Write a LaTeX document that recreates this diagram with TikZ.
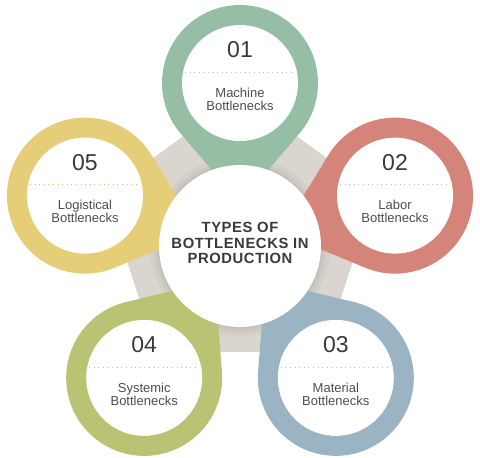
\documentclass[tikz,border=0pt]{standalone}
\usepackage{fontspec}
\setmainfont{Liberation Sans}
\newfontfamily\titlefont{Liberation Sans}[LetterSpace=4.0]
\usetikzlibrary{calc}
\definecolor{sage}{HTML}{96BEA5}
\definecolor{salmon}{HTML}{D48478}
\definecolor{steel}{HTML}{9BB4C3}
\definecolor{moss}{HTML}{B9C373}
\definecolor{mustard}{HTML}{E6CD78}
\definecolor{pebble}{HTML}{DAD5CE}
\definecolor{inkgray}{HTML}{3A3A3A}

\tikzset{
  numtext/.style={font=\fontsize{11.5}{13}\selectfont, text=inkgray},
  labtext/.style={font=\fontsize{6.5}{6.5}\selectfont, text=inkgray!90, align=center},
  titletext/.style={font=\titlefont\bfseries\fontsize{7.4}{7.6}\selectfont, text=inkgray, align=center},
  dotline/.style={gray!55, dotted, line width=0.3pt}
}

\begin{document}
\begin{tikzpicture}[x=0.5pt, y=0.5pt]

        \useasboundingbox (0,0) rectangle (480,457);

        \begin{scope}[shift={(240,211)}]

        % Ring centres
        \coordinate (r1) at (90:163);
        \coordinate (r2) at (18:163);
        \coordinate (r3) at (-54:163);
        \coordinate (r4) at (-126:163);
        \coordinate (r5) at (162:163);

        % Background pentagon
        \fill[pebble] ($(0,9)+(90:142)$) -- ($(0,9)+(18:142)$) -- ($(0,9)+(-54:142)$) -- ($(0,9)+(-126:142)$) -- ($(0,9)+(162:142)$) -- cycle;

        % Shadow round the centre
        \fill[black, opacity=0.03] (0,0) circle[radius=90];
        \fill[black, opacity=0.03] (0,0) circle[radius=86];
        \fill[black, opacity=0.03] (0,0) circle[radius=83];

        % Ring 01
        \begin{scope}[shift={(r1)}, rotate=-90]
        \fill[sage] (49.5:78) arc[start angle=49.5, end angle=310.5, radius=78] -- (120,0) -- cycle;
        \fill[white] (0,0) circle[radius=58];
        \end{scope}

        % Ring 02
        \begin{scope}[shift={(r2)}, rotate=198]
        \fill[salmon] (49.5:78) arc[start angle=49.5, end angle=310.5, radius=78] -- (120,0) -- cycle;
        \fill[white] (0,0) circle[radius=58];
        \end{scope}

        % Ring 03
        \begin{scope}[shift={(r3)}, rotate=126]
        \fill[steel] (49.5:78) arc[start angle=49.5, end angle=310.5, radius=78] -- (120,0) -- cycle;
        \fill[white] (0,0) circle[radius=58];
        \end{scope}

        % Ring 04
        \begin{scope}[shift={(r4)}, rotate=54]
        \fill[moss] (49.5:78) arc[start angle=49.5, end angle=310.5, radius=78] -- (120,0) -- cycle;
        \fill[white] (0,0) circle[radius=58];
        \end{scope}

        % Ring 05
        \begin{scope}[shift={(r5)}, rotate=342]
        \fill[mustard] (49.5:78) arc[start angle=49.5, end angle=310.5, radius=78] -- (120,0) -- cycle;
        \fill[white] (0,0) circle[radius=58];
        \end{scope}

        % Centre
        \fill[white] (0,0) circle[radius=81];
        \node[titletext] (title) at (0,3) {TYPES OF\\BOTTLENECKS IN\\PRODUCTION};

        % Dotted lines
        \draw[dotline] ($(r1)+(-55,11)$) -- ($(r1)+(55,11)$);
        \draw[dotline] ($(r2)+(-55,11)$) -- ($(r2)+(55,11)$);
        \draw[dotline] ($(r3)+(-55,11)$) -- ($(r3)+(55,11)$);
        \draw[dotline] ($(r4)+(-55,11)$) -- ($(r4)+(55,11)$);
        \draw[dotline, mustard!80!gray] ($(r5)+(-55,11)$) -- ($(r5)+(55,11)$);

        % Numbers
        \node[numtext] (n1) at ($(r1)+(0,33)$) {01};
        \node[numtext] (n2) at ($(r2)+(0,33)$) {02};
        \node[numtext] (n3) at ($(r3)+(0,33)$) {03};
        \node[numtext] (n4) at ($(r4)+(0,33)$) {04};
        \node[numtext] (n5) at ($(r5)+(0,33)$) {05};

        % Labels
        \node[labtext] (l1) at ($(r1)+(0,-16)$) {Machine\\Bottlenecks};
        \node[labtext] (l2) at ($(r2)+(0,-16)$) {Labor\\Bottlenecks};
        \node[labtext] (l3) at ($(r3)+(0,-16)$) {Material\\Bottlenecks};
        \node[labtext] (l4) at ($(r4)+(0,-16)$) {Systemic\\Bottlenecks};
        \node[labtext] (l5) at ($(r5)+(0,-16)$) {Logistical\\Bottlenecks};

        \end{scope}
       \end{tikzpicture}
\end{document}
